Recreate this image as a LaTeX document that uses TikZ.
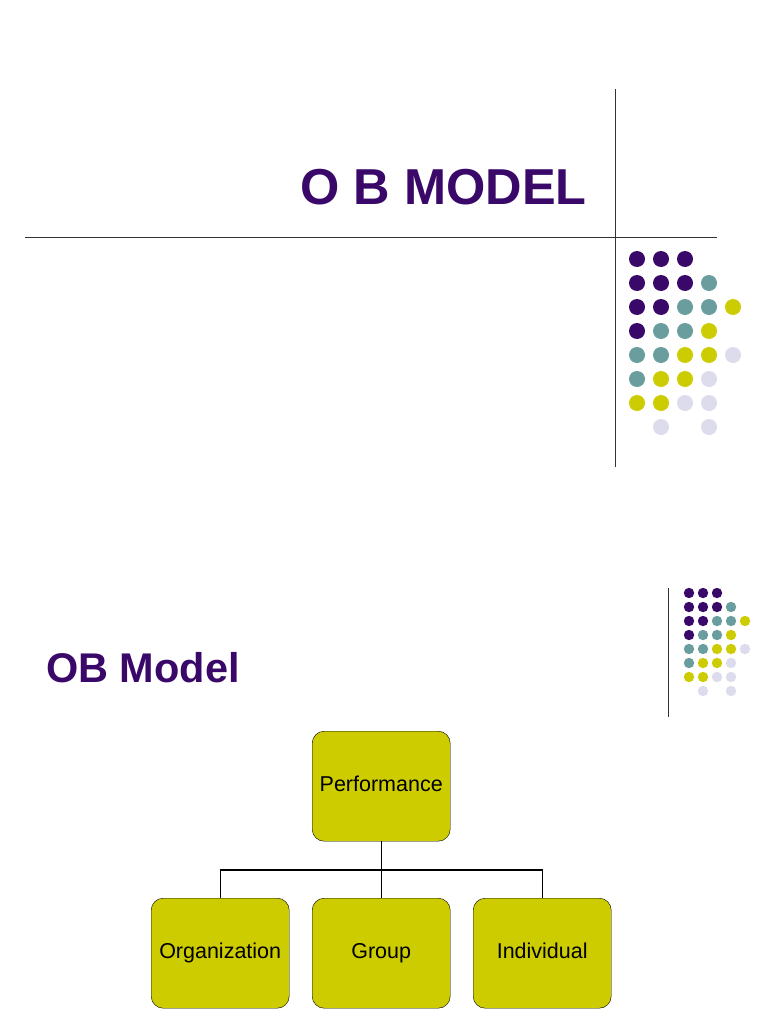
\documentclass[tikz,border=0pt]{standalone}
\usepackage{fontspec}
\setmainfont{Liberation Sans}
\begin{document}
\begin{tikzpicture}[x=1pt,y=-1pt]
\definecolor{pp}{HTML}{3A0868}
\definecolor{tl}{HTML}{6A9E9E}
\definecolor{yl}{HTML}{CCCC00}
\definecolor{lv}{HTML}{DCDCEC}
\tikzset{box/.style={draw=black,fill=yl,rounded corners=12pt,minimum width=138pt,minimum height=110pt,font=\fontsize{21.5}{24}\selectfont,text height=15pt,text depth=4pt,anchor=north west},
 rule/.style={draw=black!80,line width=0.8pt},
 conn/.style={draw=black,line width=1.2pt}}
\useasboundingbox (0,0) rectangle (768,1024);
\fill[white] (0,0) rectangle (768,1024);
% slide 1
\draw[rule] (25,237) -- (717,237);
\draw[rule] (615,89) -- (615,467);
\node[text=pp,font=\bfseries\fontsize{50.5}{60}\selectfont,anchor=east,inner sep=0] (t1) at (587,187) {O B MODEL};
\foreach \r/\row in {0/{pp,pp,pp},1/{pp,pp,pp,tl},2/{pp,pp,tl,tl,yl},3/{pp,tl,tl,yl},4/{tl,tl,yl,yl,lv},5/{tl,yl,yl,lv},6/{yl,yl,lv,lv},7/{white,lv,white,lv}}{
  \foreach \c [count=\i from 0] in \row {
    \fill[\c] (637+24*\i,259+24*\r) circle (8);
    \fill[\c] (689+14*\i,593+14*\r) circle (5.2);
  }
}
% slide 2
\draw[rule] (668,588) -- (668,717);
\node[text=pp,font=\bfseries\fontsize{41.5}{46}\selectfont,anchor=west,inner sep=0] (t2) at (46,668) {OB Model};
\node[box] (perf) at (312,731) {Performance};
\node[box] (org) at (151,898) {Organization};
\node[box] (grp) at (312,898) {Group};
\node[box] (ind) at (473,898) {Individual};
\coordinate (j) at (381,870);
\draw[conn] (perf.south) -- (grp.north);
\draw[conn] (org.north) |- (j) -| (ind.north);
\end{tikzpicture}
\end{document}
